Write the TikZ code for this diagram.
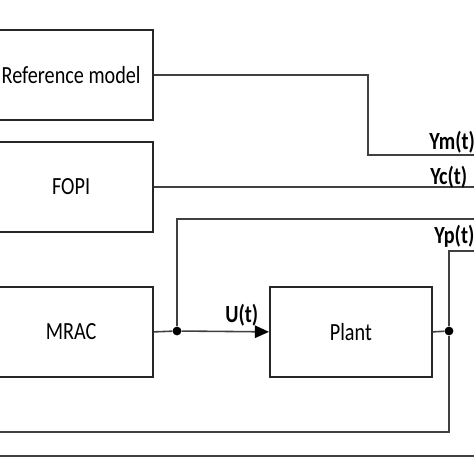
\documentclass[tikz,border=0pt]{standalone}
\usepackage{fontspec}
\usepackage{graphicx}
\setmainfont{Carlito}
\usetikzlibrary{arrows.meta,shadows}
\newcommand{\tall}[1]{\scalebox{1}[1.22]{#1}}
\tikzset{
  blk/.style={draw=black!85, fill=white, line width=1pt, minimum width=3.28cm,
    minimum height=1.8cm, inner sep=0pt, font=\fontsize{11.5}{14}\selectfont,
    drop shadow={shadow xshift=0.7pt, shadow yshift=-0.7pt, opacity=0.35}},
  sig/.style={draw=black!75, line width=0.9pt},
  lbl/.style={font=\fontsize{11.5}{14}\selectfont\bfseries, anchor=base west, inner sep=0pt},
  dot/.style={circle, fill=black, inner sep=0pt, minimum size=5pt}
}
\begin{document}
\begin{tikzpicture}[x=0.02cm,y=-0.02cm]
  \useasboundingbox (0,0) rectangle (474,474);
  \clip (0,0) rectangle (474,474);
  % blocks
  \node[blk, anchor=north east] (ref) at (154,29) {\tall{Reference model}};
  \node[blk, anchor=north east] (fopi) at (154,141) {\tall{FOPI}};
  \node[blk, anchor=north east] (mrac) at (154,286) {\tall{MRAC}};
  \node[blk, anchor=north west, minimum width=3.24cm] (plant) at (269,286) {\tall{Plant}};
  % junctions and loose ends
  \node[dot] (j1) at (177,331) {};
  \node[dot] (j2) at (449,331) {};
  \coordinate (ymbend) at (368,155);
  \coordinate (ymout) at (480,155);
  \coordinate (ycout) at (480,186);
  \coordinate (uout) at (480,219);
  \coordinate (ypout) at (480,251);
  \coordinate (fbl) at (-10,432);
  \coordinate (botl) at (-10,456);
  \coordinate (botr) at (480,456);
  % signals
  \draw[sig] (ref.east) -| (ymbend) -- (ymout);
  \draw[sig] (fopi.east) -- (fopi.east -| ycout);
  \draw[sig] (mrac.east) -- (j1);
  \draw[sig, -{Triangle[length=8pt,width=7pt,color=black]}] (j1) -- (plant.west);
  \draw[sig] (j1) |- (uout);
  \draw[sig] (plant.east) -- (j2);
  \draw[sig] (j2) |- (ypout);
  \draw[sig] (j2) |- (fbl);
  \draw[sig] (botl) -- (botr);
  % labels
  \node[lbl] (lym) at (429,149) {\tall{Ym(t)}};
  \node[lbl] (lyc) at (430,184) {\tall{Yc(t)}};
  \node[lbl] (lyp) at (434,243) {\tall{Yp(t)}};
  \node[lbl] (lu) at (225,322) {\tall{U(t)}};
\end{tikzpicture}
\end{document}
